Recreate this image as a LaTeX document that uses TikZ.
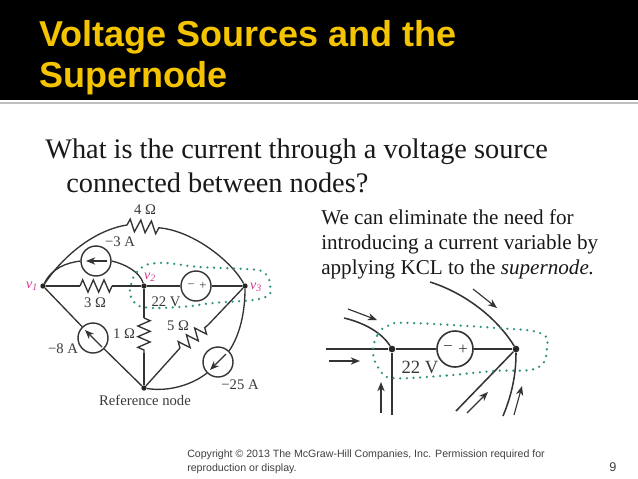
\documentclass[tikz,border=0pt]{standalone}
\usepackage{fontspec}
\setmainfont{Liberation Serif}
\setsansfont{Liberation Sans}
\usetikzlibrary{decorations.pathmorphing,arrows.meta,calc}
\definecolor{titlegold}{HTML}{F5C400}
\definecolor{wirecol}{HTML}{333333}
\definecolor{labcol}{HTML}{3A3A3A}
\definecolor{nodepink}{HTML}{D8308F}
\definecolor{dotgreen}{HTML}{2F9280}
\tikzset{
  wire/.style={draw=wirecol,line width=1pt},
  wirethick/.style={draw=wirecol,line width=1.15pt},
  res/.style={wire,decorate,decoration={zigzag,segment length=8pt,amplitude=4.6pt}},
  srcA/.style={circle,draw=wirecol,line width=1.05pt,fill=white,minimum size=22.5pt,inner sep=0pt},
  srcB/.style={circle,draw=wirecol,line width=1.2pt,fill=white,minimum size=27pt,inner sep=0pt},
  dotn/.style={circle,fill=black!85,minimum size=4pt,inner sep=0pt},
  lab/.style={text=labcol,font=\fontsize{11pt}{13pt}\selectfont,inner sep=0pt},
  vlab/.style={text=nodepink,font=\fontsize{10.5pt}{12pt}\selectfont\itshape,inner sep=0pt},
  arr/.style={draw=wirecol,line width=0.85pt,-{Stealth[length=7pt,width=5.5pt]}},
  super/.style={draw=dotgreen,line width=1.9pt,line cap=round,dash pattern=on 0pt off 5pt},
  titletext/.style={text=titlegold,font=\sffamily\bfseries\fontsize{27pt}{32pt}\selectfont,inner sep=0pt,anchor=base west},
  bodytext/.style={text=black!90,font=\fontsize{21.25pt}{25pt}\selectfont,inner sep=0pt,anchor=base west},
  sidetext/.style={text=black!90,font=\fontsize{15.85pt}{19pt}\selectfont,inner sep=0pt,anchor=base west},
  foot/.style={text=black!75,font=\sffamily\fontsize{7.95pt}{10pt}\selectfont,inner sep=0pt,anchor=base west},
}
\begin{document}
\begin{tikzpicture}[x=0.75pt,y=-0.75pt]
\useasboundingbox (0,0) rectangle (638,478);
\fill[white] (0,0) rectangle (638,478);
\fill[black] (0,0) rectangle (638,99.5);
\fill[black!25] (0,101.5) rectangle (638,104);
% title
\node[titletext] (t1) at (39,46) {Voltage Sources and the};
\node[titletext] (t2) at (39,88) {Supernode};
% body
\node[bodytext] (b1) at (45,158) {What is the current through a voltage source};
\node[bodytext] (b2) at (66,192) {connected between nodes?};
\node[sidetext] (s1) at (321,224) {We can eliminate the need for};
\node[sidetext] (s2) at (321,249) {introducing a current variable by};
\node[sidetext] (s3) at (321,274) {applying KCL to the \textit{supernode.}};
% footer
\node[foot] (f1) at (187,457) {Copyright © 2013 The McGraw-Hill Companies, Inc. Permission required for};
\node[foot] (f2) at (187,471) {reproduction or display.};
\node[text=black!75,font=\sffamily\fontsize{9.5pt}{11pt}\selectfont,inner sep=0pt,anchor=base west] (pg) at (609,471) {9};

% left circuit
\node[dotn] (v1) at (43,286) {};
\node[dotn] (v2) at (144,286) {};
\node[dotn] (v3) at (245,286) {};
\node[dotn] (vr) at (144,388) {};
\node[srcA] (sa3) at (96,261) {};
\node[srcA] (sv) at (196,286) {};
\node[srcA] (sa8) at (93,338) {};
\node[srcA] (sa25) at (218,362) {};
\coordinate (r4a) at (127,225);
\coordinate (r4b) at (161,228);
\coordinate (r3a) at (80,286);
\coordinate (r3b) at (112,286);
\coordinate (r1a) at (144,318);
\coordinate (r1b) at (144,353);
\coordinate (r5a) at (180,348);
\coordinate (r5b) at (208,325);
\draw[wire] (v1) .. controls (64,255) and (95,230) .. (r4a);
\draw[res] (r4a) -- (r4b);
\draw[wire] (r4b) .. controls (195,232) and (232,262) .. (v3);
\draw[wire] (v1) .. controls (52,268) and (66,263) .. (sa3.west);
\draw[wire] (sa3.east) .. controls (125,264) and (140,272) .. (v2);
\draw[wire] (v1) -- (r3a);
\draw[res] (r3a) -- (r3b);
\draw[wire] (r3b) -- (v2);
\draw[wire] (v2) -- (sv);
\draw[wire] (sv) -- (v3);
\draw[wire] (v2) -- (r1a);
\draw[res] (r1a) -- (r1b);
\draw[wire] (r1b) -- (vr);
\draw[wire] (vr) -- (r5a);
\draw[res] (r5a) -- (r5b);
\draw[wire] (r5b) -- (v3);
\draw[wire] (v1) -- (sa8);
\draw[wire] (sa8) -- (vr);
\draw[wire] (v3) .. controls (245,312) and (240,335) .. (sa25.45);
\draw[wire] (sa25.225) .. controls (192,385) and (168,392) .. (vr);
\coordinate (a3s) at (107,261); \coordinate (a3e) at (86,261);
\coordinate (a8s) at (102,347); \coordinate (a8e) at (85,330);
\coordinate (a25s) at (226,354); \coordinate (a25e) at (210,370);
\draw[arr] (a3s) -- (a3e);
\draw[arr] (a8s) -- (a8e);
\draw[arr] (a25s) -- (a25e);
\node[lab,font=\fontsize{9.5pt}{11pt}\selectfont] (lsm) at (191,286) {−};
\node[lab,font=\fontsize{9.5pt}{11pt}\selectfont] (lsp) at (203,286) {+};
\draw[super] plot[smooth cycle,tension=0.75] coordinates {(130,290) (137,272) (157,263) (200,267) (245,269) (263,272) (270,285) (263,298) (213,303) (180,307) (143,307) (132,298)};
\node[lab] (l4) at (145,210) {4 Ω};
\node[lab] (l3a) at (120,242) {−3 A};
\node[vlab] (lv1) at (32,286) {v\textsubscript{1}};
\node[vlab] (lv2) at (150,277) {v\textsubscript{2}};
\node[vlab] (lv3) at (256,287) {v\textsubscript{3}};
\node[lab] (l3) at (95,303) {3 Ω};
\node[lab] (l22) at (166,302) {22 V};
\node[lab] (l5) at (178,326) {5 Ω};
\node[lab] (l1) at (124,334) {1 Ω};
\node[lab] (l8) at (63,349) {−8 A};
\node[lab] (l25) at (240,385) {−25 A};
\node[lab] (lref) at (145,400) {Reference node};

% right detail
\node[dotn,minimum size=5pt] (n2) at (392,349) {};
\node[dotn,minimum size=5pt] (n3) at (516,349) {};
\node[srcB] (sw) at (455,349) {};
\coordinate (w1) at (326,349);
\coordinate (w2) at (392,415);
\coordinate (w3) at (344,318);
\coordinate (w4) at (430,282);
\coordinate (w5) at (456,411);
\coordinate (w6) at (503,416);
\draw[wirethick] (w1) -- (n2);
\draw[wirethick] (n2) -- (sw);
\draw[wirethick] (sw) -- (n3);
\draw[wirethick] (w2) -- (n2);
\draw[wirethick] (w3) .. controls (365,323) and (382,333) .. (n2);
\draw[wirethick] (w4) .. controls (465,293) and (497,318) .. (n3);
\draw[wirethick] (w5) -- (n3);
\draw[wirethick] (w6) .. controls (513,392) and (516,372) .. (n3);
\coordinate (e1s) at (348,309); \coordinate (e1e) at (377,320);
\coordinate (e2s) at (473,289); \coordinate (e2e) at (497,308);
\coordinate (e3s) at (329,361); \coordinate (e3e) at (360,361);
\coordinate (e4s) at (381,413); \coordinate (e4e) at (381,382);
\coordinate (e5s) at (467,413); \coordinate (e5e) at (488,392);
\coordinate (e6s) at (514,415); \coordinate (e6e) at (522,386);
\draw[arr] (e1s) -- (e1e);
\draw[arr] (e2s) -- (e2e);
\draw[arr] (e3s) -- (e3e);
\draw[arr] (e4s) -- (e4e);
\draw[arr] (e5s) -- (e5e);
\draw[arr] (e6s) -- (e6e);
\node[lab,font=\fontsize{12.5pt}{14pt}\selectfont] (rm) at (448,349) {−};
\node[lab,font=\fontsize{12.5pt}{14pt}\selectfont] (rp) at (463,350) {+};
\node[lab,font=\fontsize{14pt}{16pt}\selectfont] (r22) at (420,367) {22 V};
\draw[super] plot[smooth cycle,tension=0.7] coordinates {(373,353) (378,334) (390,325) (410,323) (497,328) (540,333) (547,347) (537,368) (493,371) (440,376) (393,378) (380,370)};
\end{tikzpicture}
\end{document}
